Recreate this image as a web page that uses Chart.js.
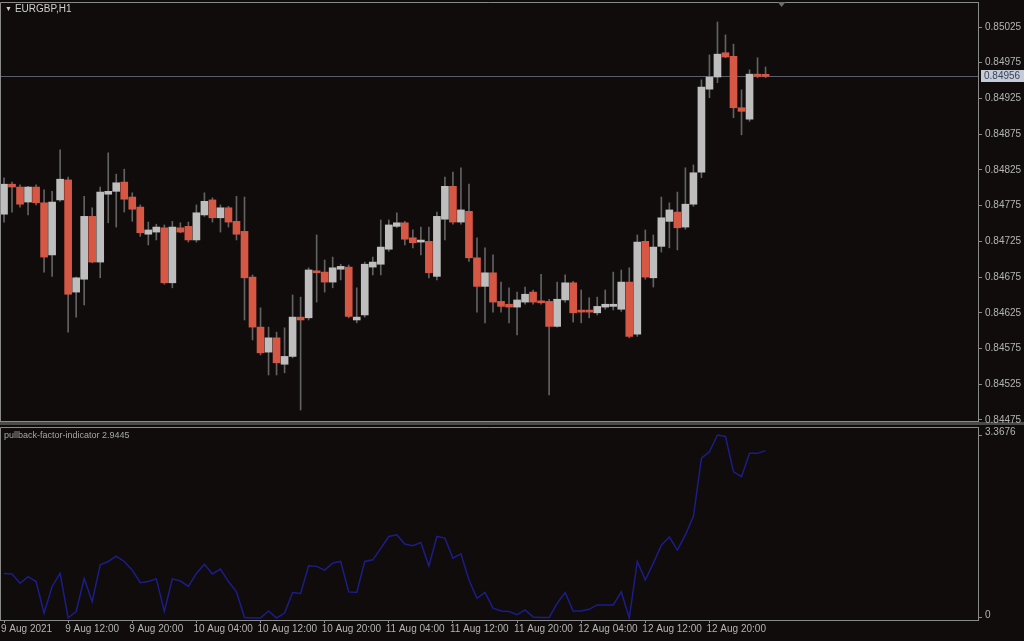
<!doctype html>
<html>
<head>
<title>EURGBP,H1</title>
<script src="https://cdn.jsdelivr.net/npm/chart.js@4.4.1/dist/chart.umd.min.js"></script>
<style>
  body { margin: 0; background: #0f0c0b; }
  #wrap { position: relative; width: 1024px; height: 641px; background: #0f0c0b; overflow: hidden; font-family: "Liberation Sans", Arial, sans-serif; }
  #wrap canvas { position: absolute; left: 0; }
  #priceCanvas { top: -7px; }
  #indCanvas { top: 418px; }
  #splitter { position: absolute; left: 0; top: 422px; width: 1024px; height: 3px; background: #4a4a4a; }
  .label { position: absolute; white-space: nowrap; }
  #sym { left: 5px; top: 3px; font-size: 10px; color: #cfcfcf; }
  #sym span { font-size: 7px; position: relative; top: -1px; margin-right: 3px; }
  #indName { left: 4px; top: 430px; font-size: 9px; color: #a6a6a6; }
</style>
</head>
<body>
<div id="wrap">
  <div id="splitter"></div>
  <canvas id="priceCanvas" width="1024" height="439"></canvas>
  <canvas id="indCanvas" width="1024" height="223"></canvas>
  <div class="label" id="sym"><span>&#9660;</span>EURGBP,H1</div>
  <div class="label" id="indName">pullback-factor-indicator 2.9445</div>
</div>
<script>
  // time axis labels, one every 8 hourly bars
  var tickLabels = ['9 Aug 2021', '9 Aug 12:00', '9 Aug 20:00', '10 Aug 04:00', '10 Aug 12:00', '10 Aug 20:00',
    '11 Aug 04:00', '11 Aug 12:00', '11 Aug 20:00', '12 Aug 04:00', '12 Aug 12:00', '12 Aug 20:00'];

  var opens = [0.84763,0.84805,0.84801,0.84780,0.84801,0.84779,0.84706,0.84783,0.84811,0.84654,
    0.84672,0.84760,0.84696,0.84791,0.84795,0.84808,0.84787,0.84773,0.84735,0.84738,
    0.84744,0.84667,0.84744,0.84746,0.84727,0.84762,0.84783,0.84758,0.84772,0.84753,
    0.84739,0.84675,0.84605,0.84570,0.84590,0.84553,0.84564,0.84619,0.84618,0.84683,
    0.84682,0.84668,0.84686,0.84689,0.84615,0.84622,0.84689,0.84693,0.84714,0.84746,
    0.84751,0.84730,0.84724,0.84725,0.84676,0.84756,0.84802,0.84752,0.84767,0.84702,
    0.84662,0.84681,0.84641,0.84637,0.84633,0.84640,0.84654,0.84641,0.84641,0.84606,
    0.84643,0.84667,0.84627,0.84627,0.84625,0.84633,0.84634,0.84630,0.84668,0.84595,
    0.84725,0.84674,0.84718,0.84753,0.84766,0.84745,0.84777,0.84822,0.84938,0.84955,
    0.84989,0.84984,0.84912,0.84896,0.84959,0.84958];

  var highs = [0.84814,0.84808,0.84804,0.84802,0.84804,0.84797,0.84795,0.84853,0.84815,0.84675,
    0.84788,0.84772,0.84801,0.84849,0.84819,0.84826,0.84793,0.84776,0.84752,0.84749,
    0.84748,0.84753,0.84751,0.84752,0.84776,0.84793,0.84786,0.84776,0.84774,0.84788,
    0.84787,0.84678,0.84632,0.84605,0.84598,0.84604,0.84650,0.84647,0.84688,0.84734,
    0.84699,0.84703,0.84693,0.84692,0.84660,0.84696,0.84703,0.84755,0.84755,0.84765,
    0.84753,0.84741,0.84745,0.84745,0.84766,0.84815,0.84822,0.84828,0.84805,0.84730,
    0.84716,0.84706,0.84668,0.84660,0.84654,0.84661,0.84657,0.84679,0.84644,0.84668,
    0.84678,0.84669,0.84657,0.84646,0.84647,0.84657,0.84682,0.84685,0.84688,0.84734,
    0.84741,0.84734,0.84787,0.84779,0.84794,0.84828,0.84832,0.84951,0.84986,0.85032,
    0.85014,0.85001,0.84937,0.84965,0.84982,0.84969];

  var lows = [0.84752,0.84766,0.84773,0.84762,0.84776,0.84682,0.84676,0.84781,0.84598,0.84619,
    0.84636,0.84695,0.84674,0.84751,0.84745,0.84766,0.84753,0.84732,0.84720,0.84727,
    0.84665,0.84660,0.84737,0.84724,0.84724,0.84760,0.84752,0.84738,0.84745,0.84727,
    0.84615,0.84587,0.84566,0.84538,0.84538,0.84541,0.84562,0.84489,0.84615,0.84640,
    0.84654,0.84660,0.84671,0.84618,0.84611,0.84619,0.84678,0.84678,0.84711,0.84744,
    0.84720,0.84716,0.84706,0.84674,0.84671,0.84727,0.84749,0.84749,0.84697,0.84626,
    0.84611,0.84626,0.84626,0.84611,0.84594,0.84637,0.84637,0.84637,0.84510,0.84605,
    0.84640,0.84612,0.84611,0.84618,0.84622,0.84630,0.84629,0.84627,0.84590,0.84592,
    0.84672,0.84661,0.84710,0.84716,0.84713,0.84742,0.84774,0.84814,0.84926,0.84947,
    0.84982,0.84898,0.84874,0.84893,0.84954,0.84954];

  var closes = [0.84805,0.84801,0.84777,0.84801,0.84779,0.84703,0.84780,0.84812,0.84651,0.84674,
    0.84760,0.84696,0.84794,0.84795,0.84807,0.84784,0.84770,0.84737,0.84741,0.84745,
    0.84667,0.84745,0.84738,0.84727,0.84765,0.84781,0.84758,0.84772,0.84752,0.84735,
    0.84674,0.84605,0.84569,0.84590,0.84555,0.84564,0.84619,0.84615,0.84685,0.84681,
    0.84668,0.84688,0.84690,0.84620,0.84619,0.84693,0.84696,0.84717,0.84748,0.84751,
    0.84728,0.84723,0.84725,0.84681,0.84760,0.84802,0.84752,0.84769,0.84702,0.84662,
    0.84681,0.84640,0.84634,0.84633,0.84643,0.84651,0.84640,0.84639,0.84606,0.84644,
    0.84667,0.84625,0.84626,0.84626,0.84634,0.84637,0.84637,0.84668,0.84592,0.84724,
    0.84675,0.84717,0.84758,0.84769,0.84744,0.84777,0.84821,0.84941,0.84955,0.84987,
    0.84983,0.84912,0.84907,0.84959,0.84956,0.84956];

  var pullback = [0.82,0.81,0.64,0.76,0.67,0.09,0.58,0.82,0.00,0.12,
    0.73,0.30,0.98,1.04,1.14,1.04,0.88,0.65,0.67,0.72,
    0.12,0.72,0.68,0.58,0.82,0.99,0.81,0.90,0.67,0.48,
    0.01,0.00,0.00,0.13,0.00,0.09,0.47,0.45,0.96,0.95,
    0.88,1.01,1.04,0.48,0.47,1.04,1.07,1.28,1.50,1.53,
    1.36,1.33,1.39,0.96,1.50,1.47,1.10,1.18,0.70,0.36,
    0.47,0.18,0.13,0.12,0.06,0.15,0.02,0.01,0.01,0.27,
    0.47,0.13,0.13,0.16,0.24,0.24,0.24,0.48,0.00,1.04,
    0.70,1.01,1.34,1.49,1.25,1.53,1.87,2.94,3.06,3.3676,
    3.34,2.69,2.60,3.03,3.03,3.08];

  var priceTicks = [0.84475,0.84525,0.84575,0.84625,0.84675,0.84725,0.84775,0.84825,0.84875,0.84925,0.84975,0.85025];
  var indTicks = [0, 3.3676];

  var slots = 122; // bars plus the empty chart shift on the right
  var bullColor = '#bebebe', bearColor = '#d75745', wickColor = '#626262';
  var axisColor = '#8a8a8a', textColor = '#b4b4b4';

  Chart.defaults.font.family = '"Liberation Sans", Arial, sans-serif';
  Chart.defaults.font.size = 10;

  var labels = [];
  for (var i = 0; i < slots; i++) labels.push(i);

  function showTick(i) {
    return i % 8 === 0 && i / 8 < tickLabels.length;
  }

  // frame round the plot area
  var frame = {
    id: 'frame',
    afterDatasetsDraw: function(chart) {
      var a = chart.chartArea, c = chart.ctx;
      c.save();
      c.strokeStyle = axisColor;
      c.lineWidth = 1;
      c.beginPath();
      c.moveTo(a.left + 0.5, a.bottom + 0.5);
      c.lineTo(a.left + 0.5, a.top + 0.5);
      c.lineTo(a.right, a.top + 0.5);
      c.moveTo(a.left, a.bottom + 0.5);
      c.lineTo(a.right, a.bottom + 0.5);
      c.stroke();
      c.restore();
    }
  };

  // bid line, price box and chart shift marker
  var lastPrice = {
    id: 'lastPrice',
    beforeDatasetsDraw: function(chart) {
      var a = chart.chartArea, c = chart.ctx;
      var y = Math.round(chart.scales.y.getPixelForValue(closes[closes.length - 1])) + 0.5;
      c.save();
      c.strokeStyle = '#5c5c6a';
      c.beginPath();
      c.moveTo(a.left, y);
      c.lineTo(a.right, y);
      c.stroke();
      c.restore();
    },
    afterDraw: function(chart) {
      var a = chart.chartArea, c = chart.ctx;
      var last = closes[closes.length - 1];
      var y = Math.round(chart.scales.y.getPixelForValue(last));
      c.save();
      c.fillStyle = '#c5ccd7';
      c.fillRect(a.right + 3, y - 6, 43, 12);
      c.fillStyle = '#39435a';
      c.font = '10px "Liberation Sans"';
      c.textBaseline = 'middle';
      c.fillText(last.toFixed(5), a.right + 6, y + 0.5);
      var sx = chart.scales.x.getPixelForValue(97);
      c.fillStyle = '#6c6c6c';
      c.beginPath();
      c.moveTo(sx - 4, a.top);
      c.lineTo(sx + 4, a.top);
      c.lineTo(sx, a.top + 5);
      c.fill();
      c.restore();
    }
  };

  var bodies = opens.map(function(o, i) { return [Math.min(o, closes[i]), Math.max(o, closes[i])]; });
  var bodyColors = opens.map(function(o, i) { return closes[i] >= o ? bullColor : bearColor; });
  var wicks = lows.map(function(l, i) { return [l, highs[i]]; });

  new Chart(document.getElementById('priceCanvas'), {
    type: 'bar',
    data: {
      labels: labels,
      datasets: [{
        data: bodies,
        backgroundColor: bodyColors,
        barThickness: 7,
        minBarLength: 2,
        grouped: false,
        order: 0
      }, {
        data: wicks,
        backgroundColor: wickColor,
        barThickness: 1,
        grouped: false,
        order: 1
      }]
    },
    options: {
      responsive: false,
      animation: false,
      events: [],
      layout: { padding: { top: 2, left: 0, right: 0, bottom: 11 } },
      plugins: { legend: { display: false }, tooltip: { enabled: false } },
      scales: {
        x: { display: false },
        y: {
          position: 'right',
          min: 0.844736,
          max: 0.850600,
          afterBuildTicks: function(s) { s.ticks = priceTicks.map(function(v) { return { value: v }; }); },
          afterFit: function(s) { s.width = 46; },
          ticks: { color: textColor, padding: 3, callback: function(v) { return v.toFixed(5); } },
          grid: { drawOnChartArea: false, tickLength: 4, color: axisColor },
          border: { color: axisColor }
        }
      }
    },
    plugins: [frame, lastPrice]
  });

  new Chart(document.getElementById('indCanvas'), {
    type: 'line',
    data: {
      labels: labels,
      datasets: [{
        data: pullback,
        borderColor: '#1d1d8a',
        borderWidth: 1.5,
        pointRadius: 0,
        tension: 0,
        fill: false
      }]
    },
    options: {
      responsive: false,
      animation: false,
      events: [],
      layout: { padding: { top: 3, left: 0, right: 0, bottom: 0 } },
      plugins: { legend: { display: false }, tooltip: { enabled: false } },
      scales: {
        x: {
          offset: true,
          afterFit: function(s) { s.height = 21; },
          grid: {
            drawOnChartArea: false,
            offset: false,
            tickLength: 3,
            color: function(ctx) { return showTick(ctx.index) ? axisColor : 'transparent'; }
          },
          border: { color: axisColor },
          ticks: {
            autoSkip: false,
            maxRotation: 0,
            minRotation: 0,
            align: 'start',
            padding: 0,
            labelOffset: -3,
            color: textColor,
            callback: function(v, i) { return showTick(i) ? tickLabels[i / 8] : ''; }
          }
        },
        y: {
          position: 'right',
          min: -0.037,
          max: 3.515,
          afterBuildTicks: function(s) { s.ticks = indTicks.map(function(v) { return { value: v }; }); },
          afterFit: function(s) { s.width = 46; },
          ticks: { color: textColor, padding: 3, labelOffset: -3, callback: function(v) { return v === 0 ? '0' : v.toFixed(4); } },
          grid: { drawOnChartArea: false, tickLength: 4, color: axisColor },
          border: { color: axisColor }
        }
      }
    },
    plugins: [frame]
  });
</script>
</body>
</html>
